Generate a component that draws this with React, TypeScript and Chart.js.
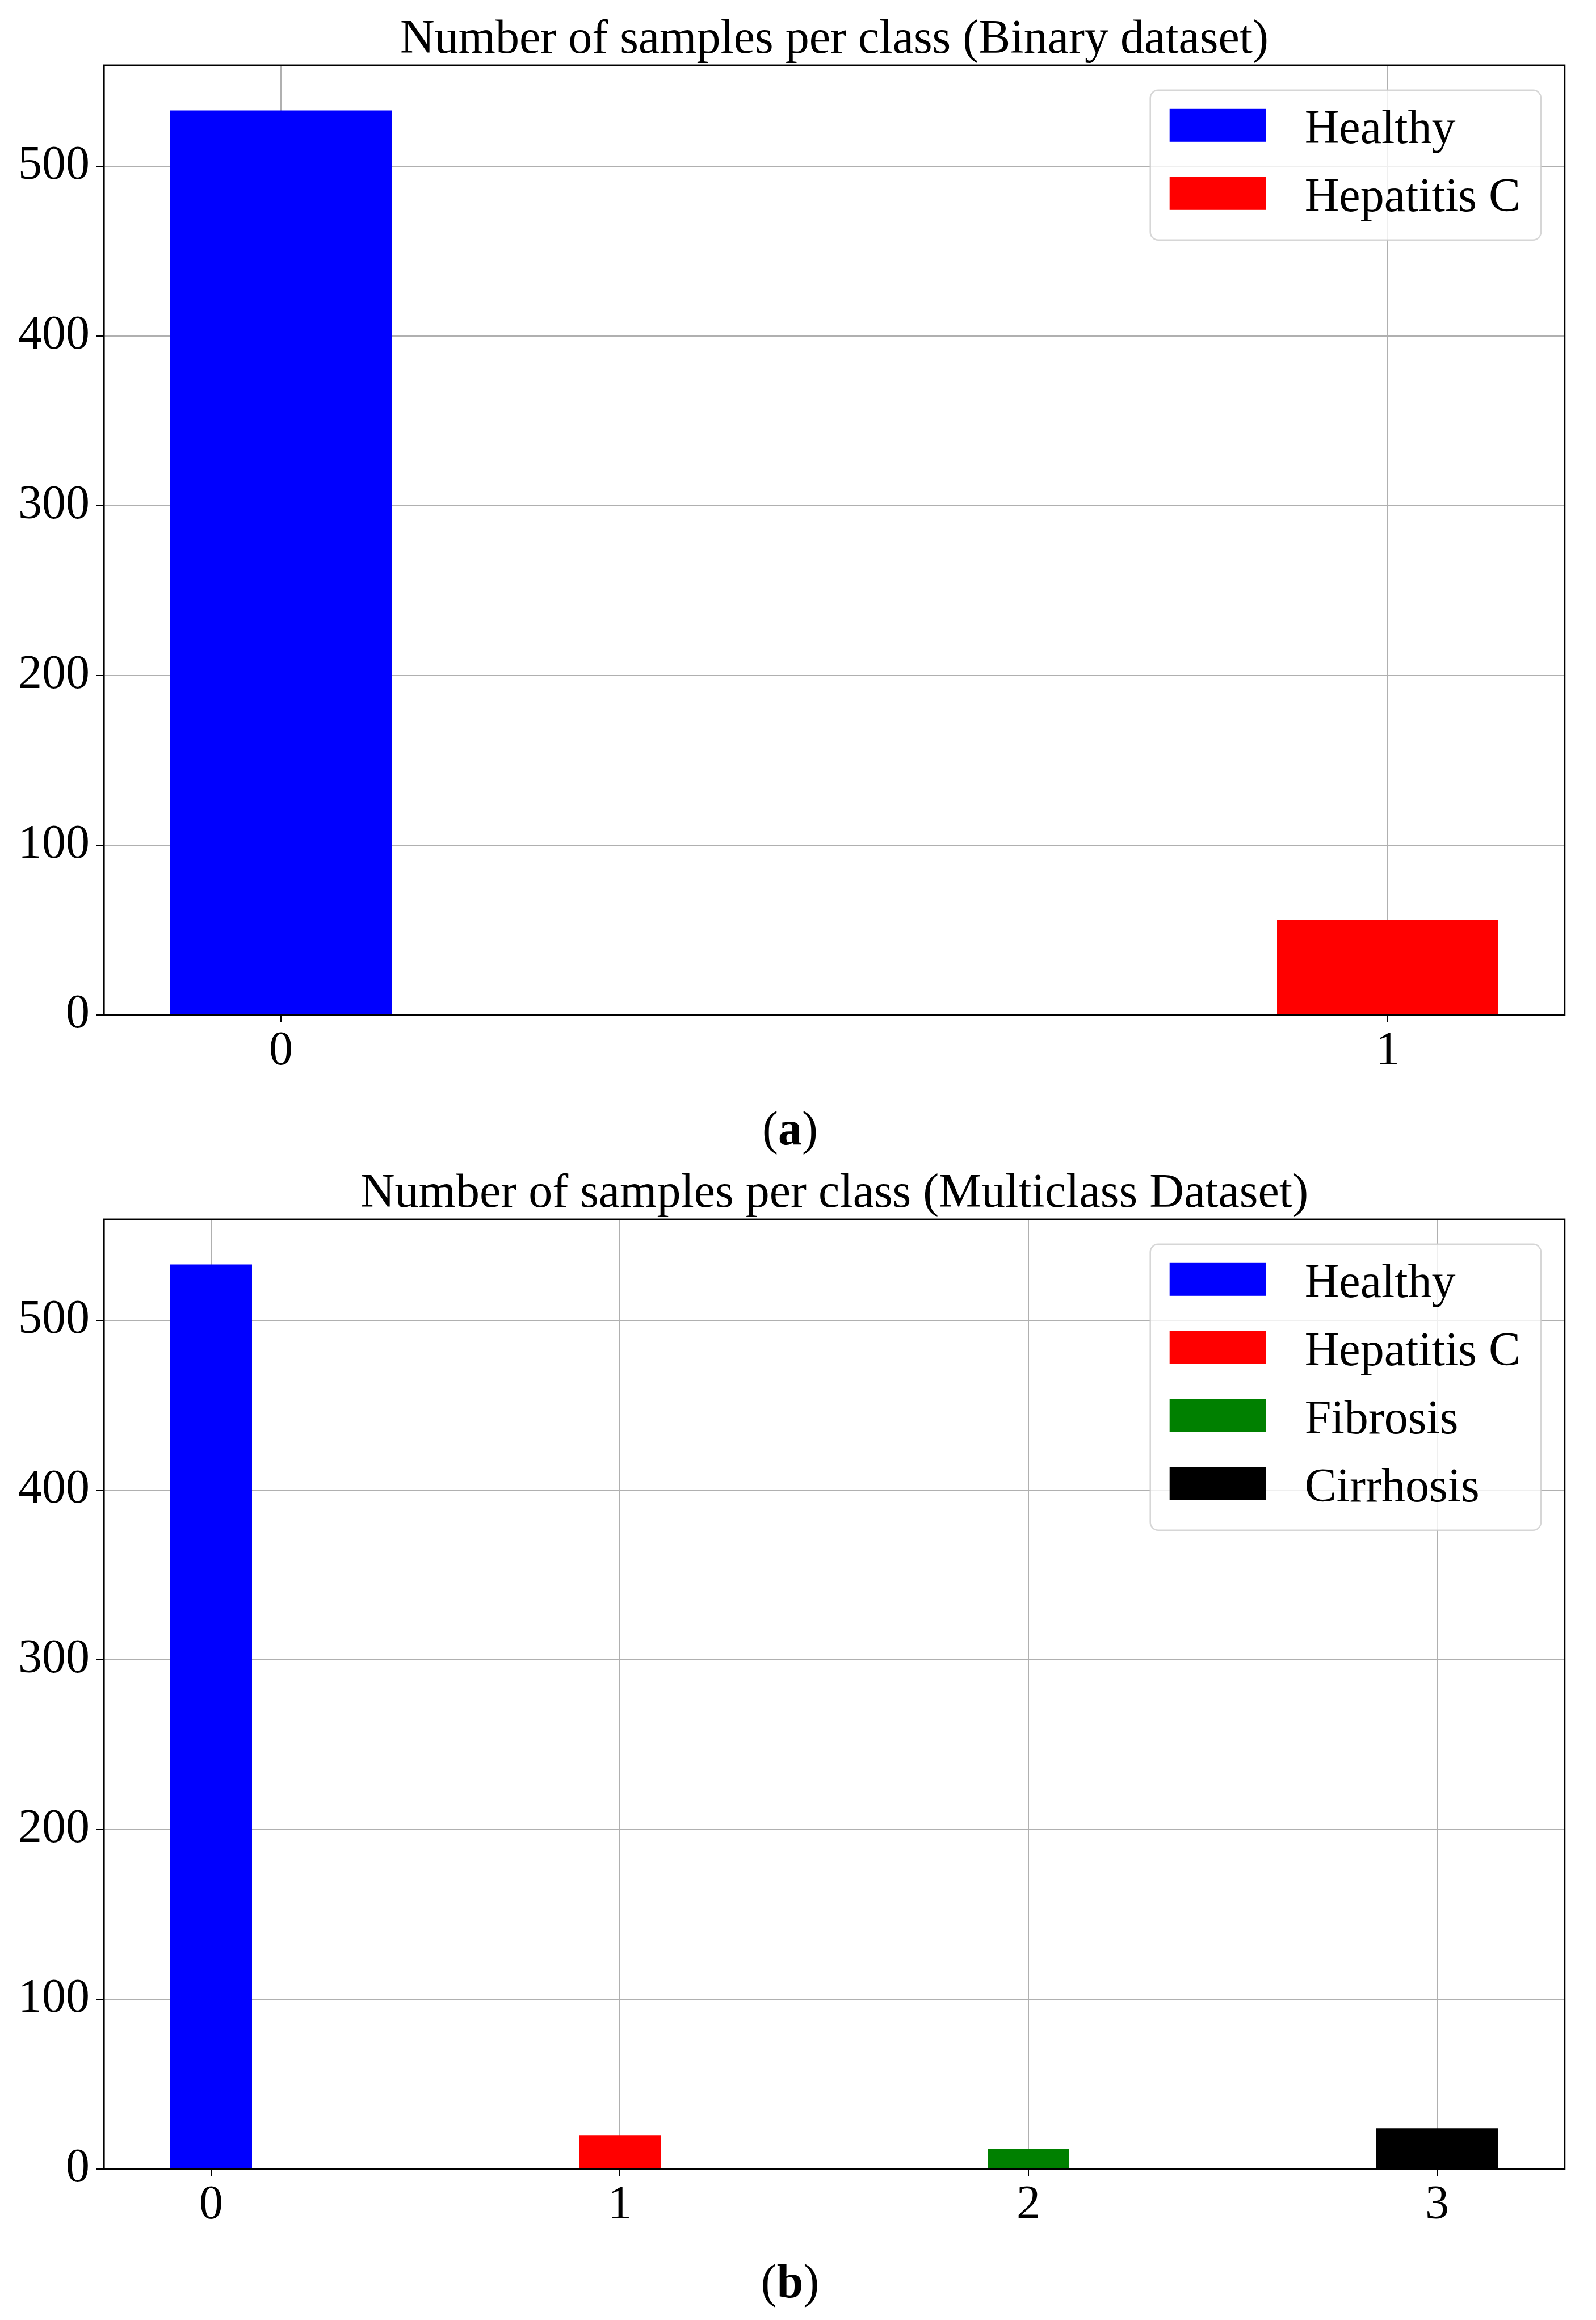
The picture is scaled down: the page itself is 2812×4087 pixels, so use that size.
import React, { useEffect, useRef } from 'react';
import { Chart, registerables } from 'chart.js';

Chart.register(...registerables);

const FONT = '"Liberation Serif", "Times New Roman", Times, serif';

// ---- Binary dataset ----
const binaryTitle = 'Number of samples per class (Binary dataset)';
const binaryClasses = [0, 1];
const binaryLabels = ['Healthy', 'Hepatitis C'];
const binaryCounts = [533, 56];
const binaryColors = ['#0000ff', '#ff0000'];
const binaryBarWidths = [0.2, 0.2];
const binaryXTicks = [0, 1];

// ---- Multiclass dataset ----
const multiTitle = 'Number of samples per class (Multiclass Dataset)';
const multiClasses = [0, 1, 2, 3];
const multiLabels = ['Healthy', 'Hepatitis C', 'Fibrosis', 'Cirrhosis'];
const multiCounts = [533, 20, 12, 24];
const multiColors = ['#0000ff', '#ff0000', '#008000', '#000000'];
const multiBarWidths = [0.2, 0.2, 0.2, 0.3];
const multiXTicks = [0, 1, 2, 3];

const yTicks = [0, 100, 200, 300, 400, 500];

const FS = 84;

const frameAndLegend = {
  id: 'frameAndLegend',
  afterLayout(chart: any) {
    // center the title over the plotting area (as matplotlib does)
    const tb = chart.titleBlock;
    if (tb) {
      tb.left = chart.chartArea.left;
      tb.right = chart.chartArea.right;
    }
  },
  afterDatasetsDraw(chart: any) {
    const { ctx, chartArea } = chart;
    ctx.save();
    // spines
    ctx.strokeStyle = '#000';
    ctx.lineWidth = 2.5;
    ctx.strokeRect(chartArea.left, chartArea.top, chartArea.right - chartArea.left, chartArea.bottom - chartArea.top);

    // legend (inside, upper right)
    const ds = chart.data.datasets;
    ctx.font = `${FS}px ${FONT}`;
    const maxW = Math.max(...ds.map((d: any) => ctx.measureText(d.label).width));
    const padL = 34, patchW = 170, patchH = 58, gap = 68, padR = 36;
    const rowH = 120, topOff = 62, botOff = 82;
    const w = padL + patchW + gap + maxW + padR;
    const h = topOff + (ds.length - 1) * rowH + botOff;
    const x = chartArea.right - 42 - w;
    const y = chartArea.top + 44;
    const r = 14;
    ctx.beginPath();
    ctx.moveTo(x + r, y);
    ctx.lineTo(x + w - r, y);
    ctx.arcTo(x + w, y, x + w, y + r, r);
    ctx.lineTo(x + w, y + h - r);
    ctx.arcTo(x + w, y + h, x + w - r, y + h, r);
    ctx.lineTo(x + r, y + h);
    ctx.arcTo(x, y + h, x, y + h - r, r);
    ctx.lineTo(x, y + r);
    ctx.arcTo(x, y, x + r, y, r);
    ctx.closePath();
    ctx.fillStyle = 'rgba(255,255,255,0.8)';
    ctx.fill();
    ctx.strokeStyle = 'rgba(204,204,204,0.8)';
    ctx.lineWidth = 2.5;
    ctx.stroke();

    ds.forEach((d: any, i: number) => {
      const cy = y + topOff + i * rowH;
      ctx.fillStyle = d.backgroundColor;
      ctx.fillRect(x + padL, cy - patchH / 2, patchW, patchH);
      ctx.fillStyle = '#000';
      ctx.textBaseline = 'alphabetic';
      ctx.textAlign = 'left';
      ctx.fillText(d.label, x + padL + patchW + gap, cy + 31);
    });
    ctx.restore();
  },
};

type Props = {
  top: number;
  title: string;
  classes: number[];
  labels: string[];
  counts: number[];
  colors: string[];
  widths: number[];
  xTicks: number[];
};

function BarPanel({ top, title, classes, labels, counts, colors, widths, xTicks }: Props) {
  const ref = useRef<HTMLCanvasElement>(null);
  useEffect(() => {
    if (!ref.current) return;
    const datasets = labels.map((lab, i) => ({
      label: lab,
      data: [{ x: classes[i], y: counts[i] }],
      backgroundColor: colors[i],
      borderWidth: 0,
      grouped: false,
      categoryPercentage: 1,
      barPercentage: widths[i],
    }));
    const last = classes.length - 1;
    const lo = classes[0] - widths[0] / 2;
    const hi = classes[last] + widths[last] / 2;
    const span = hi - lo;
    const xMin = lo - 0.05 * span;
    const xMax = hi + 0.05 * span;
    const yMax = Math.max(...counts) * 1.05;
    const tickFont = { family: FONT, size: FS, weight: 'normal' as const };

    const chart = new Chart(ref.current, {
      type: 'bar',
      data: { datasets } as any,
      options: {
        animation: false,
        responsive: false,
        devicePixelRatio: 1,
        layout: { padding: { left: 0, right: 55, top: 0, bottom: 0 } },
        plugins: {
          legend: { display: false },
          tooltip: { enabled: false },
          title: {
            display: true,
            text: title,
            color: '#000',
            font: { family: FONT, size: FS, weight: 'normal', lineHeight: 1.0333 },
            padding: { top: 28, bottom: 0 },
          },
        },
        scales: {
          x: {
            type: 'linear',
            min: xMin,
            max: xMax,
            offset: false,
            grid: {
              offset: false,
              color: '#b0b0b0',
              lineWidth: 2,
              drawTicks: true,
              tickLength: 13,
              tickColor: '#000',
              tickWidth: 2,
            },
            border: { display: true, color: '#000', width: 2.5 },
            ticks: {
              includeBounds: false,
              color: '#000',
              font: tickFont,
              padding: 2,
              maxRotation: 0,
              autoSkip: false,
            },
            afterBuildTicks: (s: any) => {
              s.ticks = xTicks.map((v) => ({ value: v }));
            },
            afterFit: (s: any) => {
              s.height = 112;
            },
          },
          y: {
            type: 'linear',
            min: 0,
            max: yMax,
            grid: {
              color: '#b0b0b0',
              lineWidth: 2,
              drawTicks: true,
              tickLength: 13,
              tickColor: '#000',
              tickWidth: 2,
            },
            border: { display: true, color: '#000', width: 2.5 },
            ticks: {
              includeBounds: false,
              color: '#000',
              font: tickFont,
              padding: 12,
            },
            afterBuildTicks: (s: any) => {
              s.ticks = yTicks.map((v) => ({ value: v }));
            },
            afterFit: (s: any) => {
              s.width = 183;
            },
          },
        },
      } as any,
      plugins: [frameAndLegend],
    });
    return () => chart.destroy();
  }, []);
  return (
    <canvas
      ref={ref}
      width={2812}
      height={1900}
      style={{ position: 'absolute', left: 0, top, width: 2812, height: 1900 }}
    />
  );
}

function Caption({ top, letter }: { top: number; letter: string }) {
  return (
    <div
      style={{
        position: 'absolute',
        left: 1392 - 200,
        width: 400,
        top,
        textAlign: 'center',
        fontFamily: FONT,
        fontSize: FS,
        lineHeight: `${FS}px`,
        color: '#000',
      }}
    >
      (<b>{letter}</b>)
    </div>
  );
}

export default function App() {
  return (
    <div
      style={{
        position: 'absolute',
        left: 0,
        top: 0,
        width: 2812,
        height: 4087,
        background: '#fff',
        overflow: 'hidden',
      }}
    >
      <BarPanel
        top={0}
        title={binaryTitle}
        classes={binaryClasses}
        labels={binaryLabels}
        counts={binaryCounts}
        colors={binaryColors}
        widths={binaryBarWidths}
        xTicks={binaryXTicks}
      />
      <Caption top={1990 - 44} letter="a" />
      <BarPanel
        top={2033}
        title={multiTitle}
        classes={multiClasses}
        labels={multiLabels}
        counts={multiCounts}
        colors={multiColors}
        widths={multiBarWidths}
        xTicks={multiXTicks}
      />
      <Caption top={4021 - 44} letter="b" />
    </div>
  );
}
